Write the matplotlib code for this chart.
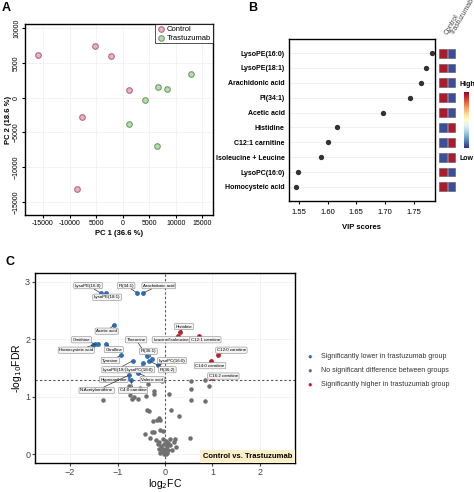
import matplotlib
matplotlib.use("Agg")
import matplotlib.pyplot as plt
import numpy as np
from matplotlib.patches import Rectangle

# ---- Panel A data
ctrl_pc1 = [-16000, -5300, -2300, 1100, -7600, -8700]
ctrl_pc2 = [6100, 7500, 6000, 1100, -2800, -13200]
tras_pc1 = [12800, 6600, 8400, 4200, 1100, 6500]
tras_pc2 = [3400, 1600, 1300, -300, -3800, -7000]

# ---- Panel B data
vip_names = ["LysoPE(16:0)", "LysoPE(18:1)", "Arachidonic acid", "PI(34:1)", "Acetic acid",
             "Histidine", "C12:1 carnitine", "Isoleucine + Leucine", "LysoPC(16:0)", "Homocysteic acid"]
vip_scores = [1.782, 1.772, 1.762, 1.744, 1.696, 1.616, 1.601, 1.589, 1.549, 1.545]
ctrl_high = [1, 1, 1, 1, 1, 0, 0, 0, 1, 1]

# ---- Panel C data
blue_x = [-1.35, -1.25, -0.58, -0.47, -1.07, -1.47, -1.42, -1.51, -1.24, -0.93, -0.38, -0.28, -0.47, -0.67, -0.14, -0.33, -0.75, -0.56, -0.72, -0.80]
blue_y = [2.80, 2.80, 2.80, 2.80, 2.25, 1.92, 1.92, 1.90, 1.91, 1.72, 1.71, 1.66, 1.58, 1.63, 1.55, 1.62, 1.38, 1.41, 1.30, 1.33]
red_x = [0.32, 0.27, 0.72, 1.12, 0.97, 0.99]
red_y = [2.12, 2.06, 2.06, 1.73, 1.63, 1.32]
grey_x = [-1.31, -0.74, -0.65, -0.70, -0.56, -0.40, -0.23, -0.23, -0.75, -0.53, -0.35, -0.07, 0.08, 0.55, 0.55, 0.55, 0.85, 0.85, 0.92,
          -0.37, -0.33, 0.13, 0.30, -0.13, -0.25, -0.17, -0.10, -0.43, -0.28, -0.23, -0.10, -0.05, -0.31, -0.18, -0.12, -0.05, 0.02,
          0.06, 0.10, 0.20, 0.22, 0.52, -0.15, -0.08, -0.02, 0.05, 0.10, -0.12, -0.05, 0.02, 0.07, -0.07, 0.0, 0.05, -0.03, 0.03, -0.10, 0.23, 0.15]
grey_y = [0.94, 1.03, 1.00, 0.97, 0.97, 1.01, 1.05, 1.10, 1.18, 1.15, 1.22, 1.27, 1.05, 1.27, 1.13, 0.95, 0.93, 1.30, 1.19,
          0.77, 0.76, 0.77, 0.67, 0.63, 0.58, 0.59, 0.60, 0.35, 0.39, 0.39, 0.42, 0.40, 0.28, 0.25, 0.22, 0.26, 0.24,
          0.20, 0.27, 0.22, 0.27, 0.28, 0.18, 0.15, 0.18, 0.14, 0.16, 0.10, 0.09, 0.10, 0.08, 0.05, 0.04, 0.03, 0.01, 0.0, 0.02, 0.13, 0.08]
# labels: (text, point x, point y, label x, label y)
labels = [("LysoPE(16:0)", -1.35, 2.80, -1.62, 2.93), ("LysoPE(18:1)", -1.25, 2.80, -1.22, 2.73),
          ("PI(34:1)", -0.58, 2.80, -0.82, 2.93), ("Arachidonic acid", -0.47, 2.80, -0.13, 2.93),
          ("Acetic acid", -1.07, 2.25, -1.23, 2.14), ("Ornithine", -1.47, 1.92, -1.76, 1.99),
          ("Homocysteic acid", -1.42, 1.92, -1.87, 1.81), ("Citrulline", -1.24, 1.91, -1.08, 1.82),
          ("Tyrosine", -0.93, 1.72, -1.15, 1.63), ("Threonine", -0.38, 1.71, -0.61, 1.99),
          ("PI(36:1)", -0.28, 1.66, -0.35, 1.79), ("LysoPC(16:0)", -0.14, 1.55, 0.15, 1.63),
          ("PI(36:2)", -0.33, 1.62, 0.05, 1.47), ("LysoPE(18:0)", -0.67, 1.63, -1.03, 1.47),
          ("LysoPC(18:0)", -0.47, 1.58, -0.52, 1.47), ("Hypoxanthine", -0.80, 1.33, -1.08, 1.30),
          ("Valeric acid", -0.56, 1.41, -0.27, 1.30), ("N-Acetylornithine", -0.75, 1.38, -1.44, 1.11),
          ("C4:0 carnitine", -0.72, 1.30, -0.67, 1.11), ("Histidine", 0.32, 2.12, 0.40, 2.22),
          ("Leucine/Isoleucine", 0.27, 2.06, 0.13, 1.99), ("C12:1 carnitine", 0.72, 2.06, 0.85, 1.99),
          ("C12:0 carnitine", 1.12, 1.73, 1.40, 1.81), ("C14:0 carnitine", 0.97, 1.63, 0.95, 1.54),
          ("C16:2 carnitine", 0.99, 1.32, 1.23, 1.36)]

W, H = 474, 492
fig = plt.figure(figsize=(W / 100, H / 100), dpi=100)
plt.rcParams['font.family'] = ['Liberation Sans', 'DejaVu Sans']

def ax_at(l, t, r, b):
    return fig.add_axes([l / W, 1 - b / H, (r - l) / W, (b - t) / H])

# ---------------- A
axA = ax_at(25, 24, 213, 215)
axA.scatter(ctrl_pc1, ctrl_pc2, s=16, facecolor='#e8b4c4', edgecolor='#b06a84', linewidth=0.8, label='Control', zorder=3)
axA.scatter(tras_pc1, tras_pc2, s=16, facecolor='#b8dcb0', edgecolor='#6e9e66', linewidth=0.8, label='Trastuzumab', zorder=3)
axA.set_xlim(-18400, 17000); axA.set_ylim(-16900, 10600)
axA.set_xticks([-15000, -10000, -5000, 0, 5000, 10000, 15000])
axA.set_xticklabels(['-15000', '-10000', '5000', '0', '5000', '10000', '15000'])
axA.set_yticks([-15000, -10000, -5000, 0, 5000, 10000])
axA.tick_params(labelsize=5, length=2, pad=1.5)
for l in axA.get_yticklabels():
    l.set_rotation(90); l.set_va('center')
axA.grid(color='#eeeeee', linewidth=0.5)
axA.set_xlabel('PC 1 (36.6 %)', fontsize=5.5, fontweight='bold', labelpad=2)
axA.set_ylabel('PC 2 (18.6 %)', fontsize=5.5, fontweight='bold', labelpad=1)
leg = axA.legend(loc='upper right', fontsize=5.5, handletextpad=0.1, borderpad=0.2, fancybox=False,
                 edgecolor='black', borderaxespad=0.05, labelspacing=0.15, handlelength=1.2)
leg.get_frame().set_linewidth(0.6)
for s in axA.spines.values(): s.set_linewidth(1.0)
fig.text(2 / W, 1 - 8 / H, 'A', fontsize=9, fontweight='bold', va='center')

# ---------------- B
axB = ax_at(289, 39, 435, 201)
ypos = np.arange(len(vip_names))
for y in ypos:
    axB.axhline(y, color='#eeeeee', linewidth=0.6, zorder=1)
axB.scatter(vip_scores, ypos, s=8, color='#333333', zorder=3)
axB.set_ylim(9.95, -0.95); axB.set_xlim(1.533, 1.787)
axB.set_yticks(ypos); axB.set_yticklabels(vip_names, fontsize=5, fontweight='bold')
axB.set_xticks([1.55, 1.60, 1.65, 1.70, 1.75])
axB.set_xticklabels(['1.55', '1.60', '1.65', '1.70', '1.75'])
axB.tick_params(axis='x', labelsize=5.5, length=2)
axB.tick_params(axis='y', length=0, pad=3)
axB.set_xlabel('VIP scores', fontsize=5.5, fontweight='bold', labelpad=6)
for s in axB.spines.values(): s.set_linewidth(1.0)
fig.text(248 / W, 1 - 8 / H, 'B', fontsize=9, fontweight='bold', va='center')

axH = ax_at(439, 39, 456, 201)
axH.set_xlim(0, 2); axH.set_ylim(9.95, -0.95); axH.axis('off')
red, blue = '#b2182b', '#3a4ea0'
for i, ch in enumerate(ctrl_high):
    axH.add_patch(Rectangle((0.05, i - 0.3), 0.85, 0.6, facecolor=red if ch else blue, edgecolor='#555555', lw=0.4))
    axH.add_patch(Rectangle((1.05, i - 0.3), 0.85, 0.6, facecolor=blue if ch else red, edgecolor='#555555', lw=0.4))
fig.text(443 / W, 1 - 36 / H, 'Control', fontsize=5, rotation=60, ha='left', va='bottom', color='#444444')
fig.text(450 / W, 1 - 36 / H, 'Trastuzumab', fontsize=5, rotation=60, ha='left', va='bottom', color='#444444')
axC = ax_at(464, 92, 469, 148)
axC.imshow(np.linspace(1, 0, 100).reshape(-1, 1), aspect='auto', cmap='RdYlBu_r')
axC.set_xticks([]); axC.set_yticks([])
for s in axC.spines.values(): s.set_visible(False)
fig.text(459 / W, 1 - 85 / H, 'High', fontsize=5, fontweight='bold', va='center')
fig.text(459 / W, 1 - 158 / H, 'Low', fontsize=5, fontweight='bold', va='center')

# ---------------- C
axV = ax_at(35, 273, 295, 463)
axV.grid(color='#eeeeee', linewidth=0.5)
axV.scatter(grey_x, grey_y, s=5, color='#707070', zorder=3)
axV.scatter(blue_x, blue_y, s=6, color='#2f6db5', zorder=3)
axV.scatter(red_x, red_y, s=6, color='#c0202a', zorder=3)
axV.axhline(1.3, color='#555555', linestyle=(0, (2, 2)), linewidth=0.8)
axV.axvline(0, color='#555555', linestyle=(0, (2, 2)), linewidth=0.8)
for t, px, py, lx, ly in labels:
    axV.annotate(t, (px, py), (lx, ly), fontsize=3.2, ha='center', va='center', zorder=4,
                 bbox=dict(boxstyle='round,pad=0.25', fc='#f4f4f4', ec='#888888', lw=0.4),
                 arrowprops=dict(arrowstyle='-', color='#333333', lw=0.5, shrinkA=0, shrinkB=1))
axV.set_xlim(-2.74, 2.74); axV.set_ylim(-0.15, 3.15)
axV.set_xticks([-2, -1, 0, 1, 2]); axV.set_yticks([0, 1, 2, 3])
axV.tick_params(labelsize=6.5, length=2, pad=1.5, colors='#444444')
axV.set_xlabel('log$_2$FC', fontsize=7.5, labelpad=0)
axV.set_ylabel('-log$_{10}$FDR', fontsize=7.5, labelpad=1)
axV.text(0.99, 0.015, 'Control vs. Trastuzumab', transform=axV.transAxes, ha='right', va='bottom',
         fontsize=5.5, fontweight='bold', bbox=dict(boxstyle='square,pad=0.35', fc='#fdf0c8', ec='none'))
for s in axV.spines.values(): s.set_linewidth(1.0)
fig.text(6 / W, 1 - 262 / H, 'C', fontsize=9, fontweight='bold', va='center')

for yy, c, t in [(357, '#2f6db5', 'Significantly lower in trastuzumab group'),
                 (371, '#707070', 'No significant difference between groups'),
                 (385, '#c0202a', 'Significantly higher in trastuzumab group')]:
    fig.text(310 / W, 1 - yy / H, '●', color=c, fontsize=5.5, ha='center', va='center')
    fig.text(321 / W, 1 - yy / H, t, color='#333333', fontsize=5, va='center')

fig.savefig('out.png', dpi=100)
